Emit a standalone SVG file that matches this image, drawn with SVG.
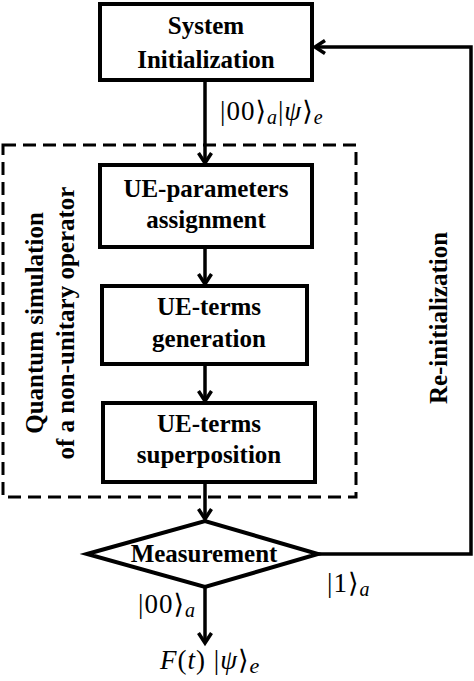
<svg xmlns="http://www.w3.org/2000/svg" width="474" height="681" viewBox="0 0 474 681">
<style>
.box{fill:#fff;stroke:#000;stroke-width:4}
.t{font-family:"Liberation Serif","DejaVu Serif",serif;font-weight:bold;font-size:25px;text-anchor:middle;fill:#000}
.m{font-family:"Liberation Serif","DejaVu Serif",serif;font-size:27px;fill:#000;letter-spacing:1px}
.i{font-style:italic}
.ln{fill:none;stroke:#000;stroke-width:3.5}
</style>
<defs>
<marker id="ah" markerUnits="userSpaceOnUse" markerWidth="20" markerHeight="20" viewBox="-12 -10 14 20" refX="0" refY="0" orient="auto">
<path d="M-10,-6.5 L0,0 L-10,6.5" fill="none" stroke="#000" stroke-width="3.5"/>
</marker>
</defs>
<rect id="group" x="3" y="145" width="353" height="352" fill="none" stroke="#000" stroke-width="3" stroke-dasharray="13,7"/>
<g id="connectors">
<line class="ln" x1="205" y1="80" x2="205" y2="163" marker-end="url(#ah)"/>
<line class="ln" x1="205" y1="247" x2="205" y2="284" marker-end="url(#ah)"/>
<line class="ln" x1="205" y1="364" x2="205" y2="401" marker-end="url(#ah)"/>
<line class="ln" x1="205" y1="482" x2="205" y2="519" marker-end="url(#ah)"/>
<line class="ln" x1="205" y1="587" x2="205" y2="643" marker-end="url(#ah)"/>
<polyline class="ln" points="318,554 471,554 471,47 315,47" marker-end="url(#ah)"/>
</g>
<g id="n1"><rect class="box" x="100" y="4" width="212" height="76"/>
<text class="t" x="206" y="34">System</text><text class="t" x="206" y="68">Initialization</text></g>
<g id="n2"><rect class="box" x="100" y="165" width="212" height="82"/>
<text class="t" x="206" y="197">UE-parameters</text><text class="t" x="206" y="228">assignment</text></g>
<g id="n3"><rect class="box" x="102" y="286" width="205" height="78"/>
<text class="t" x="209" y="315">UE-terms</text><text class="t" x="209" y="347">generation</text></g>
<g id="n4"><rect class="box" x="103" y="403" width="212" height="79"/>
<text class="t" x="209" y="432">UE-terms</text><text class="t" x="209" y="463">superposition</text></g>
<g id="n5"><polygon class="box" points="87,554 205,521 318,554 205,587"/>
<text class="t" x="204" y="562">Measurement</text></g>
<g id="labels">
<text class="t" transform="translate(43,323) rotate(-90)">Quantum simulation</text>
<text class="t" transform="translate(74,323) rotate(-90)">of a non-unitary operator</text>
<text class="t" transform="translate(447,318) rotate(-90)">Re-initialization</text>
<text class="m" x="220" y="120">|00⟩<tspan class="i" font-size="20" dy="4">a</tspan><tspan dy="-4">|</tspan><tspan class="i">ψ</tspan>⟩<tspan class="i" font-size="20" dy="4">e</tspan></text>
<text class="m" x="327" y="592">|1⟩<tspan class="i" font-size="20" dy="4">a</tspan></text>
<text class="m" x="138" y="613">|00⟩<tspan class="i" font-size="20" dy="4">a</tspan></text>
<text class="m" x="160" y="669" font-size="30"><tspan class="i">F</tspan>(<tspan class="i">t</tspan>) |<tspan class="i">ψ</tspan>⟩<tspan class="i" font-size="22" dy="4">e</tspan></text>
</g>
</svg>
